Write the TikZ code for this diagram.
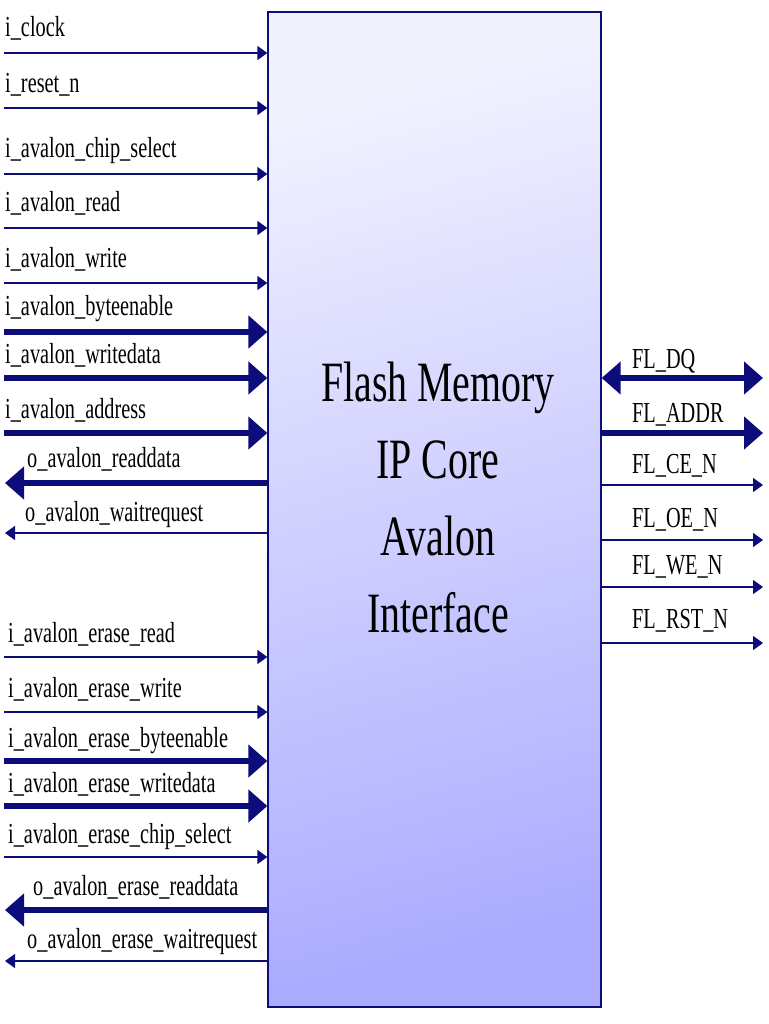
\documentclass[tikz,border=0pt]{standalone}
\usepackage{fontspec}
\setmainfont{Liberation Serif}[FakeStretch=0.7]
\usetikzlibrary{arrows.meta}
\definecolor{navy}{RGB}{12,12,122}
\definecolor{boxtop}{RGB}{242,242,255}
\definecolor{boxbot}{RGB}{172,172,255}
\tikzset{
  sig/.style={draw=navy, line width=1.5pt, -{Triangle[length=10pt,width=14pt]}},
  bus/.style={draw=navy, line width=6pt, -{Triangle[length=19pt,width=32pt]}},
  busboth/.style={draw=navy, line width=6pt, {Triangle[length=19pt,width=32pt]}-{Triangle[length=19pt,width=32pt]}},
  lbl/.style={anchor=base west, inner sep=0pt, font=\fontsize{29}{30}\selectfont},
  corebox/.style={draw=navy, line width=1.3pt, shading=axis, top color=boxtop, bottom color=boxbot, shading angle=15, minimum width=333pt, minimum height=995pt, inner sep=0pt},
  title/.style={align=center, font=\fontsize{57}{77}\selectfont}
}
\begin{document}
\begin{tikzpicture}[x=1pt,y=-1pt]
\useasboundingbox (0,0) rectangle (768,1024);
\node[corebox] (core) at (434.5,509.5) {};
\node[title] (ttl) at (438,497) {Flash Memory\\IP Core\\Avalon\\Interface};
% left inputs: name / line y / baseline y / label x / text / style
\foreach \n/\ly/\by/\lx/\t/\s in {
  clk/53/37/5/i\_clock/sig,
  rst/108/93/5/i\_reset\_n/sig,
  cs/174/158/5/i\_avalon\_chip\_select/sig,
  rd/228/212/5/i\_avalon\_read/sig,
  wr/283/267/5/i\_avalon\_write/sig,
  be/332/315/5/i\_avalon\_byteenable/bus,
  wd/378/363/5/i\_avalon\_writedata/bus,
  ad/433/418/5/i\_avalon\_address/bus,
  erd/657/642/8/i\_avalon\_erase\_read/sig,
  ewr/712/697/8/i\_avalon\_erase\_write/sig,
  ebe/761/747/8/i\_avalon\_erase\_byteenable/bus,
  ewd/806/792/8/i\_avalon\_erase\_writedata/bus,
  ecs/857/843/8/i\_avalon\_erase\_chip\_select/sig}{
  \coordinate (p\n) at (4,\ly);
  \node[lbl] (l\n) at (\lx,\by) {\t};
  \draw[\s] (p\n) -- (p\n -| core.west);
}
% left outputs
\foreach \n/\ly/\by/\lx/\t/\s in {
  ordata/483/467/27/o\_avalon\_readdata/bus,
  owait/533/521/25/o\_avalon\_waitrequest/sig,
  eordata/910/895/33/o\_avalon\_erase\_readdata/bus,
  ewait/961/948/27/o\_avalon\_erase\_waitrequest/sig}{
  \coordinate (p\n) at (5,\ly);
  \node[lbl] (l\n) at (\lx,\by) {\t};
  \draw[\s] (p\n -| core.west) -- (p\n);
}
% right side
\foreach \n/\ly/\by/\t/\s in {
  dq/378/368/FL\_DQ/busboth,
  addr/433/422/FL\_ADDR/bus,
  ce/485/473/FL\_CE\_N/sig,
  oe/540/527/FL\_OE\_N/sig,
  we/587/574/FL\_WE\_N/sig,
  rstn/643/628/FL\_RST\_N/sig}{
  \coordinate (p\n) at (763,\ly);
  \node[lbl] (l\n) at (632,\by) {\t};
  \draw[\s] (p\n -| core.east) -- (p\n);
}
\end{tikzpicture}
\end{document}
